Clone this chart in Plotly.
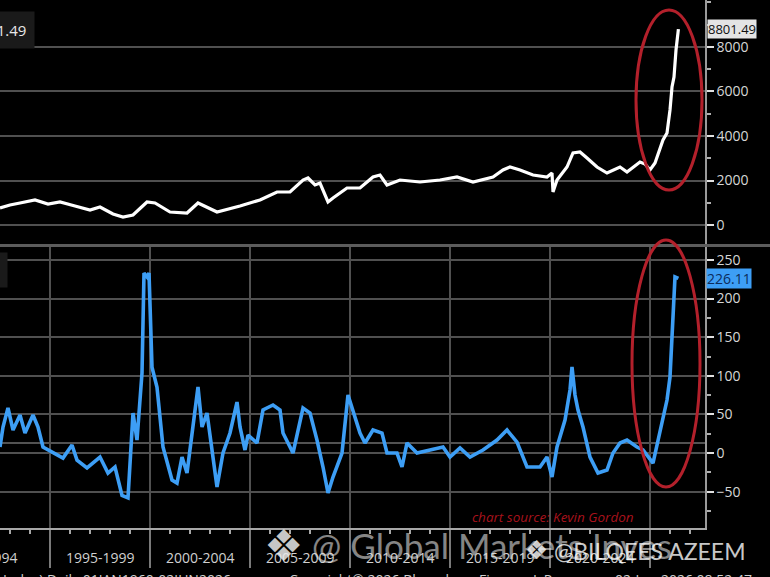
import plotly.graph_objects as go

# ---------------- data ----------------
price_years = [1992.50, 1993.00, 1993.50, 1994.25, 1994.90, 1995.50, 1996.25, 1997.00, 1997.50,
               1998.15, 1998.65, 1999.15, 1999.85, 2000.25, 2001.00, 2001.85, 2002.40, 2003.35,
               2004.50, 2005.50, 2006.35, 2007.00, 2007.65, 2007.90, 2008.25, 2008.50, 2008.90,
               2009.15, 2009.85, 2010.50, 2011.15, 2011.50, 2011.85, 2012.50, 2013.50, 2014.50,
               2015.35, 2016.15, 2017.15, 2017.65, 2018.00, 2018.50, 2019.15, 2019.85, 2020.10,
               2020.15, 2020.35, 2020.85, 2021.15, 2021.50, 2021.85, 2022.35, 2022.85, 2023.50,
               2023.85, 2024.50, 2024.75, 2025.00, 2025.25, 2025.50, 2025.65, 2025.85, 2026.00,
               2026.10, 2026.20, 2026.30, 2026.42]
price_values = [764, 899, 989, 1124, 944, 1034, 854, 674, 809,
                494, 360, 449, 1034, 989, 584, 539, 989, 584,
                854, 1124, 1483, 1483, 2022, 2112, 1798, 1887, 1034,
                1213, 1663, 1663, 2157, 2247, 1798, 2022, 1932, 2022,
                2157, 1932, 2157, 2472, 2606, 2472, 2247, 2157, 2337,
                1483, 2022, 2606, 3236, 3281, 3011, 2606, 2337, 2606,
                2382, 2831, 2741, 2472, 2786, 3370, 3820, 4134, 5168,
                6202, 6651, 7864, 8801.49]

spread_years = [1992.50, 1992.65, 1992.90, 1993.15, 1993.50, 1993.75, 1994.15, 1994.40, 1994.65,
                1995.15, 1995.65, 1996.10, 1996.35, 1996.85, 1997.50, 1997.90, 1998.25, 1998.60,
                1998.90, 1999.15, 1999.35, 1999.60, 1999.70, 1999.85, 1999.95, 2000.10, 2000.35,
                2000.65, 2001.10, 2001.35, 2001.60, 2001.85, 2002.15, 2002.40, 2002.60, 2002.85,
                2003.35, 2003.65, 2004.00, 2004.35, 2004.50, 2004.75, 2004.90, 2005.35, 2005.65,
                2006.15, 2006.50, 2006.65, 2007.15, 2007.65, 2008.00, 2008.35, 2008.65, 2008.90,
                2009.15, 2009.60, 2009.90, 2010.15, 2010.50, 2010.75, 2011.15, 2011.60, 2011.85,
                2012.35, 2012.60, 2012.85, 2013.35, 2014.00, 2014.65, 2015.00, 2015.50, 2016.00,
                2016.65, 2017.35, 2017.85, 2018.35, 2018.85, 2019.50, 2019.85, 2020.10, 2020.35,
                2020.75, 2021.00, 2021.10, 2021.25, 2021.40, 2021.65, 2022.00, 2022.40, 2022.85,
                2023.15, 2023.50, 2023.85, 2024.35, 2024.65, 2025.15, 2025.40, 2025.65, 2025.85,
                2026.00, 2026.10, 2026.15, 2026.25, 2026.42]
spread_values = [7.8, 33.7, 58.3, 29.8, 49.2, 25.9, 49.2, 33.7, 7.8,
                 0, -6.5, 10.4, -9.1, -19.4, -5.2, -25.9, -18.1, -55,
                 -58, 51.8, 16.8, 103.6, 233, 228, 233, 111, 85,
                 7.8, -35, -38.9, -5.2, -25.9, 33.7, 85.5, 33.7, 51.8,
                 -44, 0, 25.9, 66, 33.7, 3.9, 23.3, 13, 55.7,
                 62.2, 55.7, 25.9, 0, 58.3, 51.8, 16.8, -18.1, -51.8,
                 -31.1, 0, 75.1, 55.7, 25.9, 13, 29.8, 25.9, 0,
                 0, -18.1, 13, 0, 3.9, 7.8, -5.2, 6.5, -5.2,
                 3.9, 16.8, 29.8, 14.2, -18.1, -18.1, -5.2, -31.1, 7.8,
                 42.7, 81.6, 111.4, 75.1, 55.7, 33.7, -5.2, -25.9, -22,
                 0, 13, 16.8, 7.8, 3.9, -13, 16.8, 46.6, 68.6,
                 98.4, 142.5, 181.3, 228, 226.11]

period_labels = ["1995-1999", "2000-2004", "2005-2009", "2010-2014", "2015-2019", "2020-2024"]
period_centers = [1997.5, 2002.5, 2007.5, 2012.5, 2017.5, 2022.5]
first_period_label = "1990-1994"
price_ticks = [0, 2000, 4000, 6000, 8000]
spread_ticks = [-50, 0, 50, 100, 150, 200, 250]
last_price = 8801.49
last_spread = 226.11
avg_line = 13
footer_left = "Index) Daily 01JAN1960-02JUN2026"
footer_mid = "Copyright\u00a9 2026 Bloomberg Finance L.P."
footer_right = "02-Jun-2026 08:52:47"
source_text = "chart source: Kevin Gordon"

# ---------------- layout helpers ----------------
W, H = 770, 577
ML, MR, MT, MB = 0, 65, 0, 49
PW, PH = W - ML - MR, H - MT - MB
x_range = [1992.5, 2027.75]


def px(x):
    return (x - ML) / PW


def py(y):
    return (PH + MT - y) / PH


FONT = "Open Sans, Liberation Sans, DejaVu Sans, sans-serif"
GRID = "#505050"

fig = go.Figure()
fig.add_trace(go.Scatter(x=price_years, y=price_values, mode="lines",
                         line=dict(color="#ffffff", width=3.2),
                         xaxis="x", yaxis="y", showlegend=False, hoverinfo="skip"))
fig.add_trace(go.Scatter(x=spread_years, y=spread_values, mode="lines",
                         line=dict(color="#3d9ef5", width=3.6),
                         xaxis="x2", yaxis="y2", showlegend=False, hoverinfo="skip"))

axis_font = dict(family=FONT, size=14, color="#d6d6d6")

fig.update_layout(
    width=W, height=H,
    margin=dict(l=ML, r=MR, t=MT, b=MB, pad=0),
    paper_bgcolor="#000000", plot_bgcolor="#000000",
    font=dict(family=FONT, color="#d6d6d6", size=14),
    showlegend=False,
    xaxis=dict(domain=[0, 1], range=x_range, anchor="y", showticklabels=False,
               showgrid=False, zeroline=False, ticks="", showline=False, fixedrange=True),
    yaxis=dict(domain=[py(245), 1], range=[-899, 10112], side="right", anchor="x",
               tickmode="array", tickvals=price_ticks, ticks="outside", ticklen=7,
               tickcolor="#e0e0e0", tickwidth=1.5, tickfont=axis_font,
               minor=dict(tickmode="linear", tick0=0, dtick=1000, ticks="outside",
                          ticklen=4, tickcolor="#b0b0b0", showgrid=False),
               showgrid=True, gridcolor=GRID, gridwidth=1.5, zeroline=False,
               showline=True, linecolor="#9a9a9a", linewidth=1.5),
    xaxis2=dict(domain=[0, 1], range=x_range, anchor="y2", showticklabels=False,
                tickmode="linear", tick0=1995, dtick=5, ticks="outside", ticklen=38,
                tickcolor="#7a7a7a", tickwidth=1.5,
                minor=dict(tickmode="linear", tick0=1995, dtick=1, ticks="outside",
                           ticklen=4, tickcolor="#a8a8a8", showgrid=False),
                showgrid=True, gridcolor=GRID, gridwidth=1.5, zeroline=False,
                showline=True, linecolor="#a8a8a8", linewidth=1.5),
    yaxis2=dict(domain=[0, py(247)], range=[-97.1, 266.8], side="right", anchor="x2",
                tickmode="array", tickvals=spread_ticks, ticks="outside", ticklen=7,
                tickcolor="#e0e0e0", tickwidth=1.5, tickfont=axis_font,
                minor=dict(tickmode="linear", tick0=0, dtick=25, ticks="outside",
                           ticklen=4, tickcolor="#b0b0b0", showgrid=False),
                showgrid=True, gridcolor=GRID, gridwidth=1.5, zeroline=False,
                showline=True, linecolor="#9a9a9a", linewidth=1.5),
)

shapes = [
    # panel divider
    dict(type="line", xref="paper", yref="paper", x0=0, x1=W / PW, y0=py(245.5), y1=py(245.5),
         line=dict(color="#5c5c5c", width=3)),
    # average reference line in lower panel
    dict(type="line", xref="x2", yref="y2", x0=x_range[0], x1=x_range[1], y0=avg_line, y1=avg_line,
         line=dict(color="#6e6e6e", width=1.5), layer="below"),
    # red highlight ellipses
    dict(type="circle", xref="paper", yref="paper", x0=px(636), x1=px(702), y0=py(190), y1=py(10),
         line=dict(color="#b3202b", width=3)),
    dict(type="circle", xref="paper", yref="paper", x0=px(632), x1=px(700), y0=py(487), y1=py(240),
         line=dict(color="#b3202b", width=3)),
]
fig.update_layout(shapes=shapes)

ann = []
# last value tags on the right axes
ann.append(dict(xref="paper", yref="y", x=px(707), y=last_price, xanchor="left", yanchor="middle",
                text=f"{last_price:.2f}", showarrow=False, bgcolor="#e4e4e4", borderpad=0,
                font=dict(family=FONT, size=13, color="#111111")))
ann.append(dict(xref="paper", yref="y2", x=px(706), y=last_spread, xanchor="left", yanchor="middle",
                text=f"{last_spread:.2f}", showarrow=False, bgcolor="#3d9ef5", borderpad=0,
                font=dict(family=FONT, size=14, color="#0c2c5c")))
# legend boxes cut at the left edge
ann.append(dict(xref="paper", yref="paper", x=px(35), y=py(30), xanchor="right", yanchor="middle",
                text=f"{last_price:.2f}", showarrow=False, bgcolor="#1a1a1a", borderpad=8,
                font=dict(family=FONT, size=15, color="#e8e8e8")))
ann.append(dict(xref="paper", yref="paper", x=px(8), y=py(270), xanchor="right", yanchor="middle",
                text=f"{last_spread:.2f}", showarrow=False, bgcolor="#1a1a1a", borderpad=7,
                font=dict(family=FONT, size=15, color="#e8e8e8")))
# period labels
for c, lab in zip(period_centers, period_labels):
    ann.append(dict(xref="x2", yref="paper", x=c, y=py(557), xanchor="center", yanchor="middle",
                    text=lab, showarrow=False, font=dict(family=FONT, size=14, color="#d0d0d0")))
ann.append(dict(xref="paper", yref="paper", x=px(-17), y=py(557), xanchor="center", yanchor="middle",
                text=first_period_label, showarrow=False, font=dict(family=FONT, size=14, color="#d0d0d0")))
# footer
ann.append(dict(xref="paper", yref="paper", x=px(233), y=py(579), xanchor="right", yanchor="middle",
                text=footer_left, showarrow=False, font=dict(family=FONT, size=14, color="#cfcfcf")))
ann.append(dict(xref="paper", yref="paper", x=px(287), y=py(579), xanchor="left", yanchor="middle",
                text=footer_mid, showarrow=False, font=dict(family=FONT, size=14, color="#cfcfcf")))
ann.append(dict(xref="paper", yref="paper", x=px(613), y=py(579), xanchor="left", yanchor="middle",
                text=footer_right, showarrow=False, font=dict(family=FONT, size=14, color="#cfcfcf")))
# chart source
ann.append(dict(xref="paper", yref="paper", x=px(470), y=py(517), xanchor="left", yanchor="middle",
                text=f"<i>{source_text}</i>", showarrow=False,
                font=dict(family=FONT, size=13.5, color="#a8121c")))
# watermarks
ann.append(dict(xref="paper", yref="paper", x=px(283), y=py(545), xanchor="center", yanchor="middle",
                text="\u2756", showarrow=False, font=dict(family="DejaVu Sans", size=44, color="rgba(235,235,235,0.85)")))
ann.append(dict(xref="paper", yref="paper", x=px(310), y=py(545), xanchor="left", yanchor="middle",
                text="@ Global Markets Inves", showarrow=False,
                font=dict(family="Lato, Open Sans, sans-serif", size=35, color="rgba(225,225,225,0.6)")))
ann.append(dict(xref="paper", yref="paper", x=px(536), y=py(550), xanchor="center", yanchor="middle",
                text="\u2756", showarrow=False, font=dict(family="DejaVu Sans", size=26, color="rgba(240,240,240,0.85)")))
ann.append(dict(xref="paper", yref="paper", x=px(552), y=py(551), xanchor="left", yanchor="middle",
                text="@BILQEES AZEEM", showarrow=False,
                font=dict(family="Lato, Open Sans, sans-serif", size=23, color="rgba(255,255,255,0.8)")))
fig.update_layout(annotations=ann)

fig.write_html("out.html",
               config={"displayModeBar": False},
               post_script="document.body.style.margin='0';document.body.style.background='#000';"
                           "document.body.style.overflow='hidden';")
